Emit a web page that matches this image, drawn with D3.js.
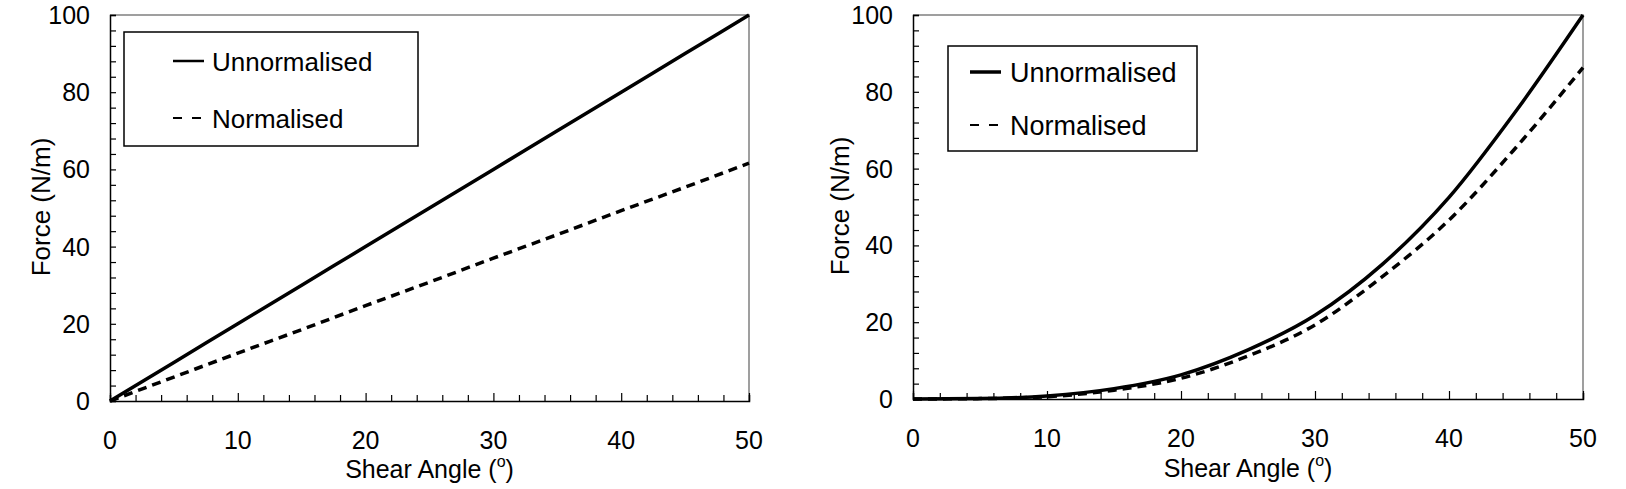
<!DOCTYPE html>
<html>
<head>
<meta charset="utf-8">
<script src="https://cdn.jsdelivr.net/npm/d3@7"></script>
<style>
  body { margin: 0; background: #fff; }
  text { font-family: "Liberation Sans", Arial, sans-serif; fill: #000; }
</style>
</head>
<body>
<div id="chart"></div>
<script>
{
  // shear angle samples (degrees)
  const angles = [0, 5, 10, 15, 20, 25, 30, 35, 40, 45, 50];

  // left panel: linear response
  const leftUnnormalised = [0, 10, 20, 30, 40, 50, 60, 70, 80, 90, 100];
  const leftNormalised = [0, 6.2, 12.4, 18.5, 24.7, 30.8, 37, 43.1, 49.3, 55.4, 61.6];

  // right panel: nonlinear response
  const rightUnnormalised = [0, 0.1, 0.8, 2.7, 6.3, 12.8, 21.8, 35, 52.5, 75, 100];
  const rightNormalised = [0, 0.1, 0.6, 2.3, 5.4, 11.2, 19.3, 31.8, 46.6, 65.5, 86.3];

  const seriesNames = ["Unnormalised", "Normalised"];
  const yTicks = [0, 20, 40, 60, 80, 100];
  const xTicks = [0, 10, 20, 30, 40, 50];

  const width = 1626;
  const height = 489;

  const svg = d3.select("#chart")
    .append("svg")
    .attr("width", width)
    .attr("height", height);

  const panels = [
    {
      x0: 110, x1: 749, y0: 401, y1: 15,
      series: [leftUnnormalised, leftNormalised],
      legend: { x: 124, y: 32, w: 294, h: 114, sx: 173, tx: 212, rows: [71, 128], font: 26, sw: 2.5 },
      xLabelY: 449, titleY: 478, yTitleX: 50
    },
    {
      x0: 913, x1: 1583, y0: 399, y1: 15,
      series: [rightUnnormalised, rightNormalised],
      legend: { x: 948, y: 46, w: 249, h: 105, sx: 970, tx: 1010, rows: [82, 135], font: 27, sw: 3.5 },
      xLabelY: 447, titleY: 477, yTitleX: 849
    }
  ];

  panels.forEach(p => {
    const x = d3.scaleLinear().domain([0, 50]).range([p.x0, p.x1]);
    const y = d3.scaleLinear().domain([0, 100]).range([p.y0, p.y1]);
    const g = svg.append("g");

    // top and right frame (grey)
    g.append("path")
      .attr("d", `M${p.x0},${p.y1} H${p.x1} V${p.y0}`)
      .attr("fill", "none")
      .attr("stroke", "#808080")
      .attr("stroke-width", 1.5);

    // y axis with inward ticks
    const yAxis = g.append("g").attr("transform", `translate(${p.x0},0)`);
    yAxis.call(d3.axisRight(y).tickValues(d3.range(0, 101, 4)).tickSize(6).tickFormat(""));
    yAxis.selectAll(".tick line").attr("stroke", "#000").attr("stroke-width", 1.2);
    yAxis.select(".domain").attr("stroke", "#000").attr("stroke-width", 1.5);

    g.selectAll(".ylab")
      .data(yTicks)
      .enter()
      .append("text")
      .attr("x", p.x0 - 20)
      .attr("y", d => y(d) + 9)
      .attr("text-anchor", "end")
      .attr("font-size", 25)
      .text(d => d);

    // x axis with inward ticks
    const xAxis = g.append("g").attr("transform", `translate(0,${p.y0})`);
    xAxis.call(d3.axisTop(x).tickValues(d3.range(0, 51, 2)).tickSize(6).tickFormat(""));
    xAxis.selectAll(".tick line")
      .attr("stroke", "#000")
      .attr("stroke-width", 1.2)
      .attr("y2", d => d % 10 === 0 ? -8 : -6);
    xAxis.select(".domain").attr("stroke", "#000").attr("stroke-width", 1.5);

    g.selectAll(".xlab")
      .data(xTicks)
      .enter()
      .append("text")
      .attr("x", d => x(d))
      .attr("y", p.xLabelY)
      .attr("text-anchor", "middle")
      .attr("font-size", 25)
      .text(d => d);

    // axis titles
    const title = g.append("text")
      .attr("x", (p.x0 + p.x1) / 2)
      .attr("y", p.titleY)
      .attr("text-anchor", "middle")
      .attr("font-size", 25);
    title.append("tspan").text("Shear Angle (");
    title.append("tspan").attr("font-size", 16).attr("dy", -11).text("o");
    title.append("tspan").attr("dy", 11).text(")");

    g.append("text")
      .attr("transform", `translate(${p.yTitleX},${(p.y0 + p.y1) / 2 - 1}) rotate(-90)`)
      .attr("text-anchor", "middle")
      .attr("font-size", 26)
      .text("Force (N/m)");

    // curves
    const line = d3.line()
      .x((d, i) => x(angles[i]))
      .y(d => y(d))
      .curve(d3.curveMonotoneX);

    p.series.forEach((s, i) => {
      g.append("path")
        .datum(s)
        .attr("d", line)
        .attr("fill", "none")
        .attr("stroke", "#000")
        .attr("stroke-width", 3.5)
        .attr("stroke-dasharray", i === 1 ? "9,6" : null);
    });

    // legend
    const L = p.legend;
    g.append("rect")
      .attr("x", L.x)
      .attr("y", L.y)
      .attr("width", L.w)
      .attr("height", L.h)
      .attr("fill", "#fff")
      .attr("stroke", "#000")
      .attr("stroke-width", 1.5);

    seriesNames.forEach((name, i) => {
      g.append("line")
        .attr("x1", L.sx)
        .attr("x2", L.sx + 31)
        .attr("y1", L.rows[i] - 10)
        .attr("y2", L.rows[i] - 10)
        .attr("stroke", "#000")
        .attr("stroke-width", i === 0 ? L.sw : 2)
        .attr("stroke-dasharray", i === 1 ? "9,10" : null);
      g.append("text")
        .attr("x", L.tx)
        .attr("y", L.rows[i])
        .attr("font-size", L.font)
        .text(name);
    });
  });
}
</script>
</body>
</html>
